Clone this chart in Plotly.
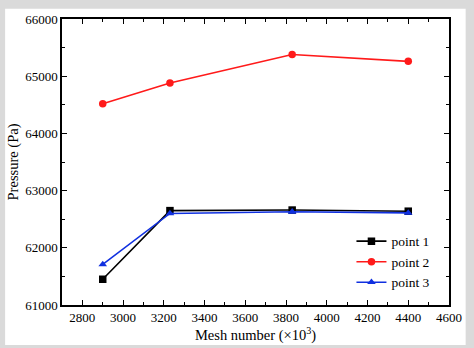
import plotly.graph_objects as go

mesh = [2900, 3230, 3830, 4400]
point1 = [61450, 62650, 62660, 62640]
point2 = [64520, 64880, 65380, 65260]
point3 = [61710, 62600, 62630, 62610]

series = [
    ("point 1", point1, "#000000", "square"),
    ("point 2", point2, "#ff1a1a", "circle"),
    ("point 3", point3, "#1030e0", "triangle-up"),
]

fig = go.Figure()
for name, vals, col, sym in series:
    fig.add_trace(go.Scatter(x=mesh, y=vals, name=name, mode="lines+markers",
                             line=dict(color=col, width=1.6),
                             marker=dict(symbol=sym, size=7.5, color=col)))

font = "Liberation Serif, Times New Roman, serif"
axis_common = dict(showline=True, linecolor="black", linewidth=1.5, mirror="ticks",
                   ticks="inside", ticklen=5, tickwidth=1.2, tickcolor="black",
                   showgrid=False, zeroline=False, tickformat="d",
                   tickfont=dict(family=font, size=13, color="black"))
fig.update_xaxes(range=[2700, 4600], tickvals=list(range(2800, 4601, 200)),
                 minor=dict(ticks="inside", ticklen=3, dtick=100, tick0=2700, tickcolor="black"),
                 title=dict(text="Mesh number (×10<sup>3</sup>)", standoff=1,
                            font=dict(family=font, size=14.5, color="black")),
                 **axis_common)
fig.update_yaxes(range=[61000, 66000], tickvals=list(range(61000, 66001, 1000)),
                 minor=dict(ticks="inside", ticklen=3, dtick=500, tick0=61000, tickcolor="black"),
                 title=dict(text="Pressure (Pa)", standoff=3,
                            font=dict(family=font, size=14.5, color="black")),
                 **axis_common)

fig.add_shape(type="rect", xref="paper", yref="paper", x0=-0.147, x1=1.043,
              y0=-0.140, y1=1.036, fillcolor="white", line=dict(width=0), layer="below")

fig.update_layout(width=474, height=348,
                  margin=dict(l=60, r=19, t=12, b=43),
                  paper_bgcolor="#dadada", plot_bgcolor="white",
                  legend=dict(x=0.965, y=0.025, xanchor="right", yanchor="bottom",
                              bgcolor="rgba(0,0,0,0)", tracegroupgap=0,
                              font=dict(family=font, size=13.5, color="black")),
                  font=dict(family=font))

fig.write_html("out.html")
